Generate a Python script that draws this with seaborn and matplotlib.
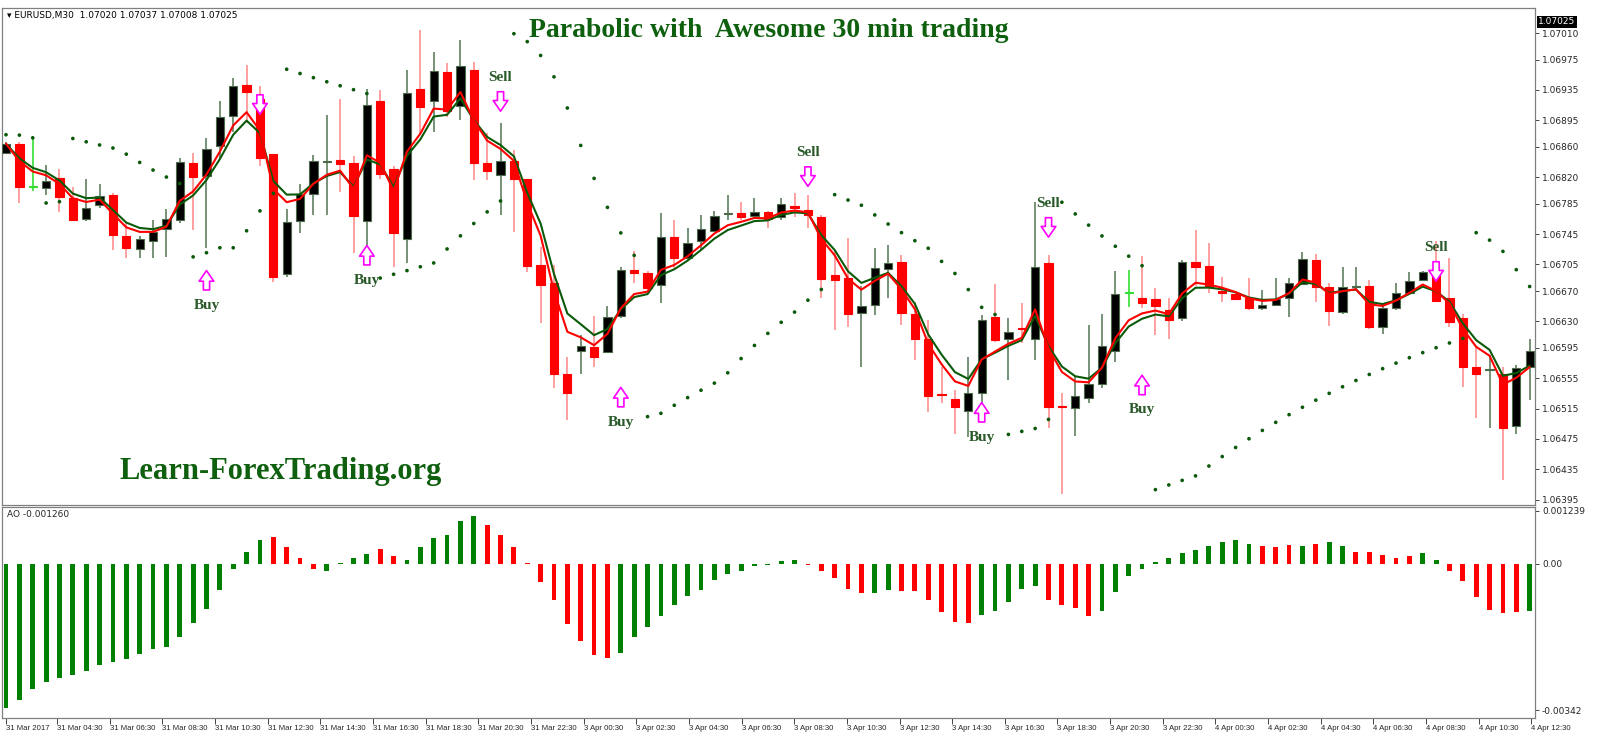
import numpy as np
import pandas as pd
import matplotlib
matplotlib.use("Agg")
import matplotlib.pyplot as plt
import seaborn as sns

# ---------------- data (prices in points, 1 point = 0.00001) ----------------
opens = [106852,106864,106807,106806,106819,106793,106765,106783,106797,106743,
         106726,106736,106752,106764,106839,106822,106861,106901,106942,106923,
         106851,106693,106762,106798,106840,106843,106839,106762,106920,106831,
         106739,106936,106920,106959,106914,106961,106839,106823,106841,106818,
         106704,106681,106561,106591,106596,106590,106637,106698,106694,106678,
         106741,106714,106736,106749,106772,106773,106769,106774,106768,106781,
         106777,106768,106691,106687,106641,106652,106699,106708,106640,106607,
         106534,106528,106512,106535,106636,106607,106621,106607,106707,106518,
         106516,106529,106548,106591,106667,106661,106660,106645,106635,106708,
         106703,106670,106666,106661,106648,106652,106661,106679,106711,106675,
         106643,106675,106677,106623,106647,106668,106685,106694,106661,106635,
         106570,106566,106561,106492,106570]
closes = [106864,106807,106807,106815,106794,106764,106780,106795,106744,106727,
          106739,106748,106765,106840,106820,106857,106899,106940,106932,106845,
          106689,106761,106798,106841,106841,106837,106769,106915,106824,106747,
          106931,106913,106960,106907,106967,106839,106828,106841,106818,106703,
          106678,106560,106536,106598,106583,106636,106698,106694,106674,106741,
          106714,106733,106752,106769,106773,106768,106774,106765,106785,106780,
          106770,106686,106685,106640,106650,106701,106707,106641,106607,106532,
          106533,106517,106536,106632,106606,106616,106620,106702,106517,106517,
          106532,106548,106598,106666,106667,106654,106650,106632,106708,106702,
          106675,106668,106660,106648,106652,106660,106681,106712,106675,106644,
          106675,106676,106623,106647,106668,106683,106695,106657,106629,106570,
          106561,106567,106490,106569,106591]
highs = [106866,106866,106873,106836,106831,106807,106818,106811,106799,106760,
         106742,106764,106778,106845,106852,106872,106920,106951,106968,106940,
         106851,106778,106811,106849,106902,106923,106848,106936,106935,106835,
         106961,107014,106985,106970,107001,106972,106878,106891,106856,106818,
         106728,106704,106583,106612,106637,106650,106702,106723,106696,106773,
         106764,106753,106770,106775,106797,106787,106793,106776,106793,106799,
         106797,106770,106724,106740,106676,106727,106730,106718,106656,106632,
         106570,106540,106583,106639,106679,106635,106654,106787,106718,106536,
         106558,106625,106640,106697,106698,106716,106674,106661,106711,106751,
         106733,106689,106668,106687,106671,106687,106687,106722,106719,106680,
         106702,106702,106685,106650,106681,106695,106697,106736,106714,106640,
         106596,106586,106570,106572,106607]
lows = [106850,106786,106802,106797,106774,106762,106762,106780,106724,106714,
        106714,106714,106715,106760,106751,106727,106844,106880,106891,106835,
        106682,106689,106747,106770,106770,106801,106720,106711,106817,106702,
        106707,106876,106880,106900,106895,106816,106816,106770,106748,106695,
        106628,106542,106500,106560,106570,106588,106635,106681,106672,106654,
        106700,106710,106724,106748,106764,106764,106765,106753,106764,106768,
        106753,106661,106619,106623,106570,106639,106661,106625,106579,106510,
        106523,106481,106477,106517,106603,106553,106602,106579,106490,106402,
        106479,106523,106542,106577,106649,106648,106612,106607,106630,106676,
        106668,106656,106658,106645,106645,106650,106636,106678,106656,106624,
        106640,106671,106620,106614,106645,106666,106683,106655,106623,106544,
        106502,106490,106421,106482,106527]
doji_green = [2, 84]

# Awesome Oscillator values (x 1e-4) and bar colours
ao_vals = [-33.7,-31.8,-29.2,-27.5,-26.6,-26.0,-25.0,-23.7,-22.9,-22.2,
           -21.0,-19.9,-19.5,-17.1,-13.7,-10.6,-6.2,-1.3,2.8,5.7,
           6.3,4.0,1.4,-1.1,-1.6,0.2,1.5,2.3,3.4,1.8,
           1.0,4.0,6.0,6.7,10.0,11.2,9.1,6.7,4.0,0.2,
           -4.2,-8.5,-14.0,-18.0,-21.2,-21.9,-20.9,-17.1,-14.7,-12.2,
           -9.5,-7.5,-6.0,-3.8,-2.4,-1.6,-0.6,-0.2,0.6,1.0,
           -0.15,-1.55,-3.26,-5.81,-6.9,-6.74,-6.05,-6.28,-6.43,-8.37,
           -11.24,-13.57,-13.8,-12.02,-11.09,-8.91,-5.81,-5.19,-8.53,-9.69,
           -10.23,-12.09,-11.09,-6.59,-2.87,-1.09,0.47,1.40,2.56,3.18,
           4.19,5.12,5.50,4.73,4.19,3.95,4.42,4.3,4.73,5.12,
           4.19,2.79,2.75,2.17,1.40,1.86,2.56,1.0,-1.55,-4.03,
           -7.75,-10.85,-11.4,-11.24,-11.09]
ao_up = ("ggggggggggggggggggggrrrrggggrrggggggrrrrrrrrrrgggggggggggggg"
         "rrrrrggrrrrrrgggggrrrrggggggggggggrrrgrggrrrrrggrrrrrrgg")

time_labels = ["31 Mar 2017","31 Mar 04:30","31 Mar 06:30","31 Mar 08:30","31 Mar 10:30",
               "31 Mar 12:30","31 Mar 14:30","31 Mar 16:30","31 Mar 18:30","31 Mar 20:30",
               "31 Mar 22:30","3 Apr 00:30","3 Apr 02:30","3 Apr 04:30","3 Apr 06:30",
               "3 Apr 08:30","3 Apr 10:30","3 Apr 12:30","3 Apr 14:30","3 Apr 16:30",
               "3 Apr 18:30","3 Apr 20:30","3 Apr 22:30","4 Apr 00:30","4 Apr 02:30",
               "4 Apr 04:30","4 Apr 06:30","4 Apr 08:30","4 Apr 10:30","4 Apr 12:30"]
price_ticks = [1.07010,1.06975,1.06935,1.06895,1.06860,1.06820,1.06785,1.06745,1.06705,
               1.06670,1.06630,1.06595,1.06555,1.06515,1.06475,1.06435,1.06395]

# signals: (bar, kind, price of arrow tip)
sig_bar = [15, 27, 37, 46, 60, 73, 78, 85, 107, 19]
sig_kind = ["Buy","Buy","Sell","Buy","Sell","Buy","Sell","Buy","Sell","Down"]
sig_price = [1.06697,1.06730,1.06907,1.06543,1.06808,1.06523,1.06741,1.06559,1.06683,1.06903]

# ---------------- prep ----------------
sc = 1e-5
df = pd.DataFrame({"o": np.array(opens)*sc, "h": np.array(highs)*sc,
                   "l": np.array(lows)*sc, "c": np.array(closes)*sc})
df["i"] = np.arange(len(df))
df["ma_red"] = df["c"].ewm(span=4, adjust=False).mean()
df["ma_green"] = df["c"].ewm(span=5, adjust=False).mean()

def psar(h, l, step=0.02, mx=0.2):
    n = len(h); out = np.zeros(n)
    trend = -1; sar = max(h[0], h[1]) + 0.0001; ep = l[0]; af = step
    for k in range(n):
        out[k] = sar
        if trend == -1 and h[k] > sar:
            trend = 1; sar = ep; ep = h[k]; af = step
        elif trend == 1 and l[k] < sar:
            trend = -1; sar = ep; ep = l[k]; af = step
        else:
            if trend == 1 and h[k] > ep:
                ep = h[k]; af = min(af+step, mx)
            if trend == -1 and l[k] < ep:
                ep = l[k]; af = min(af+step, mx)
        sar = sar + af*(ep-sar)
        if trend == 1:
            sar = min(sar, l[k], l[k-1] if k > 0 else l[k])
        else:
            sar = max(sar, h[k], h[k-1] if k > 0 else h[k])
    return out
df["sar"] = psar(df["h"].values, df["l"].values)

sns.set_theme(style="white")
plt.rcParams['font.family'] = ['DejaVu Sans']

fig = plt.figure(figsize=(16, 7.53), dpi=100)
L, R = 2/1600, 1535/1600
ax = fig.add_axes([L, 1-505/753, R-L, (505-8)/753])
ax2 = fig.add_axes([L, 1-718/753, R-L, (718-507)/753], sharex=ax)

n = len(df)
wick_col, body_col, edge_col = [], [], []
for k in range(n):
    o, c = df.o[k], df.c[k]
    if k in doji_green:
        wick_col.append("#33dd33"); body_col.append("#33dd33"); edge_col.append("#33dd33")
    elif c >= o:
        wick_col.append("#5f7f5f"); body_col.append("black"); edge_col.append("#4a6a4a")
    else:
        wick_col.append("#ff9090"); body_col.append("#ff0000"); edge_col.append("#ff0000")
ax.vlines(df.i, df.l, df.h, colors=wick_col, lw=1.2, zorder=2)
bottoms = np.minimum(df.o, df.c)
heights = np.maximum(np.abs(df.c-df.o), 0.000014)
ax.bar(df.i, heights, bottom=bottoms, width=0.62, color=body_col,
       edgecolor=edge_col, linewidth=0.8, zorder=3)

sns.lineplot(data=df, x="i", y="ma_green", ax=ax, color="#0a5a0a", lw=1.5, zorder=4)
sns.lineplot(data=df, x="i", y="ma_red", ax=ax, color="#ff0000", lw=1.5, zorder=5)
sns.scatterplot(data=df, x="i", y="sar", ax=ax, color="#0b5a0b", s=7,
                marker="o", edgecolor="none", zorder=4)

astyle = "simple,head_width=0.75,head_length=0.55,tail_width=0.32"
for b, kd, p in zip(sig_bar, sig_kind, sig_price):
    up = kd == "Buy"
    ax.annotate("", xy=(b, p), xycoords="data",
                xytext=(0, -14 if up else 14), textcoords="offset points",
                arrowprops=dict(arrowstyle=astyle, fc="white", ec="#ff00ff", lw=1.2,
                                shrinkA=0, shrinkB=0, mutation_scale=14), zorder=6)
    if kd == "Buy":
        ax.annotate("Buy", (b, p), xytext=(0, -25), textcoords="offset points",
                    ha="center", va="center", fontsize=11, fontweight="bold",
                    color="#2a5a2a", family="Liberation Serif")
    elif kd == "Sell":
        ax.annotate("Sell", (b, p), xytext=(0, 24), textcoords="offset points",
                    ha="center", va="center", fontsize=11, fontweight="bold",
                    color="#2a5a2a", family="Liberation Serif")

ax.set_xlim(-0.3, 114.4)
ax.set_ylim(1.06388, 1.07043)
ax.yaxis.tick_right()
ax.set_yticks(price_ticks)
ax.set_yticklabels([f"{v:.5f}" for v in price_ticks], fontsize=6.5)
ax.tick_params(axis="y", length=3, width=0.6, pad=2, direction="out", right=True)
ax.tick_params(axis="x", bottom=False, labelbottom=False)
ax.set_xlabel(""); ax.set_ylabel("")
ax.text(1.002, (1.07025-1.06388)/(1.07043-1.06388), "1.07025", transform=ax.transAxes,
        fontsize=6.5, color="white", va="center", ha="left",
        bbox=dict(facecolor="black", edgecolor="none", pad=1))
ax.text(0.003, 0.994, "\u25be EURUSD,M30  1.07020 1.07037 1.07008 1.07025", transform=ax.transAxes,
        fontsize=6.5, va="top", ha="left", color="black")
ax.text(0.5, 0.955, "Parabolic with  Awesome 30 min trading", transform=ax.transAxes,
        fontsize=20, fontweight="bold", family="Liberation Serif", color="#0e600e",
        ha="center", va="center")
ax.text(0.182, 0.067, "Learn-ForexTrading.org", transform=ax.transAxes,
        fontsize=22, fontweight="bold", family="Liberation Serif", color="#0e600e",
        ha="center", va="center")

ao = np.array(ao_vals)*1e-4
ao_cols = ["#008000" if ch == "g" else "#ff0000" for ch in ao_up]
ax2.bar(df.i, ao, width=0.36, color=ao_cols, edgecolor="none", zorder=3)
ax2.set_ylim(-0.00360, 0.00133)
ax2.yaxis.tick_right()
ax2.set_yticks([0.001239, 0.0, -0.00342])
ax2.set_yticklabels(["0.001239", "0.00", "-0.00342"], fontsize=6.5)
ax2.tick_params(axis="y", length=3, width=0.6, pad=2, direction="out")
ax2.text(0.003, 0.985, "AO -0.001260", transform=ax2.transAxes, fontsize=6.5, va="top", ha="left")

tick_pos = [0.0] + [(55-4)/13.38 + 3.94*k for k in range(len(time_labels)-1)]
ax2.set_xticks(tick_pos)
ax2.set_xticklabels(time_labels, fontsize=5.6, ha="left", family="Liberation Sans")
ax2.tick_params(axis="x", length=4, width=0.6, pad=1, direction="out", bottom=True)
for a in (ax, ax2):
    for s in a.spines.values():
        s.set_color("#808080"); s.set_linewidth(0.9)
    a.grid(False)
ax2.set_xlabel(""); ax2.set_ylabel("")

fig.savefig("out.png", dpi=100, facecolor="white")
